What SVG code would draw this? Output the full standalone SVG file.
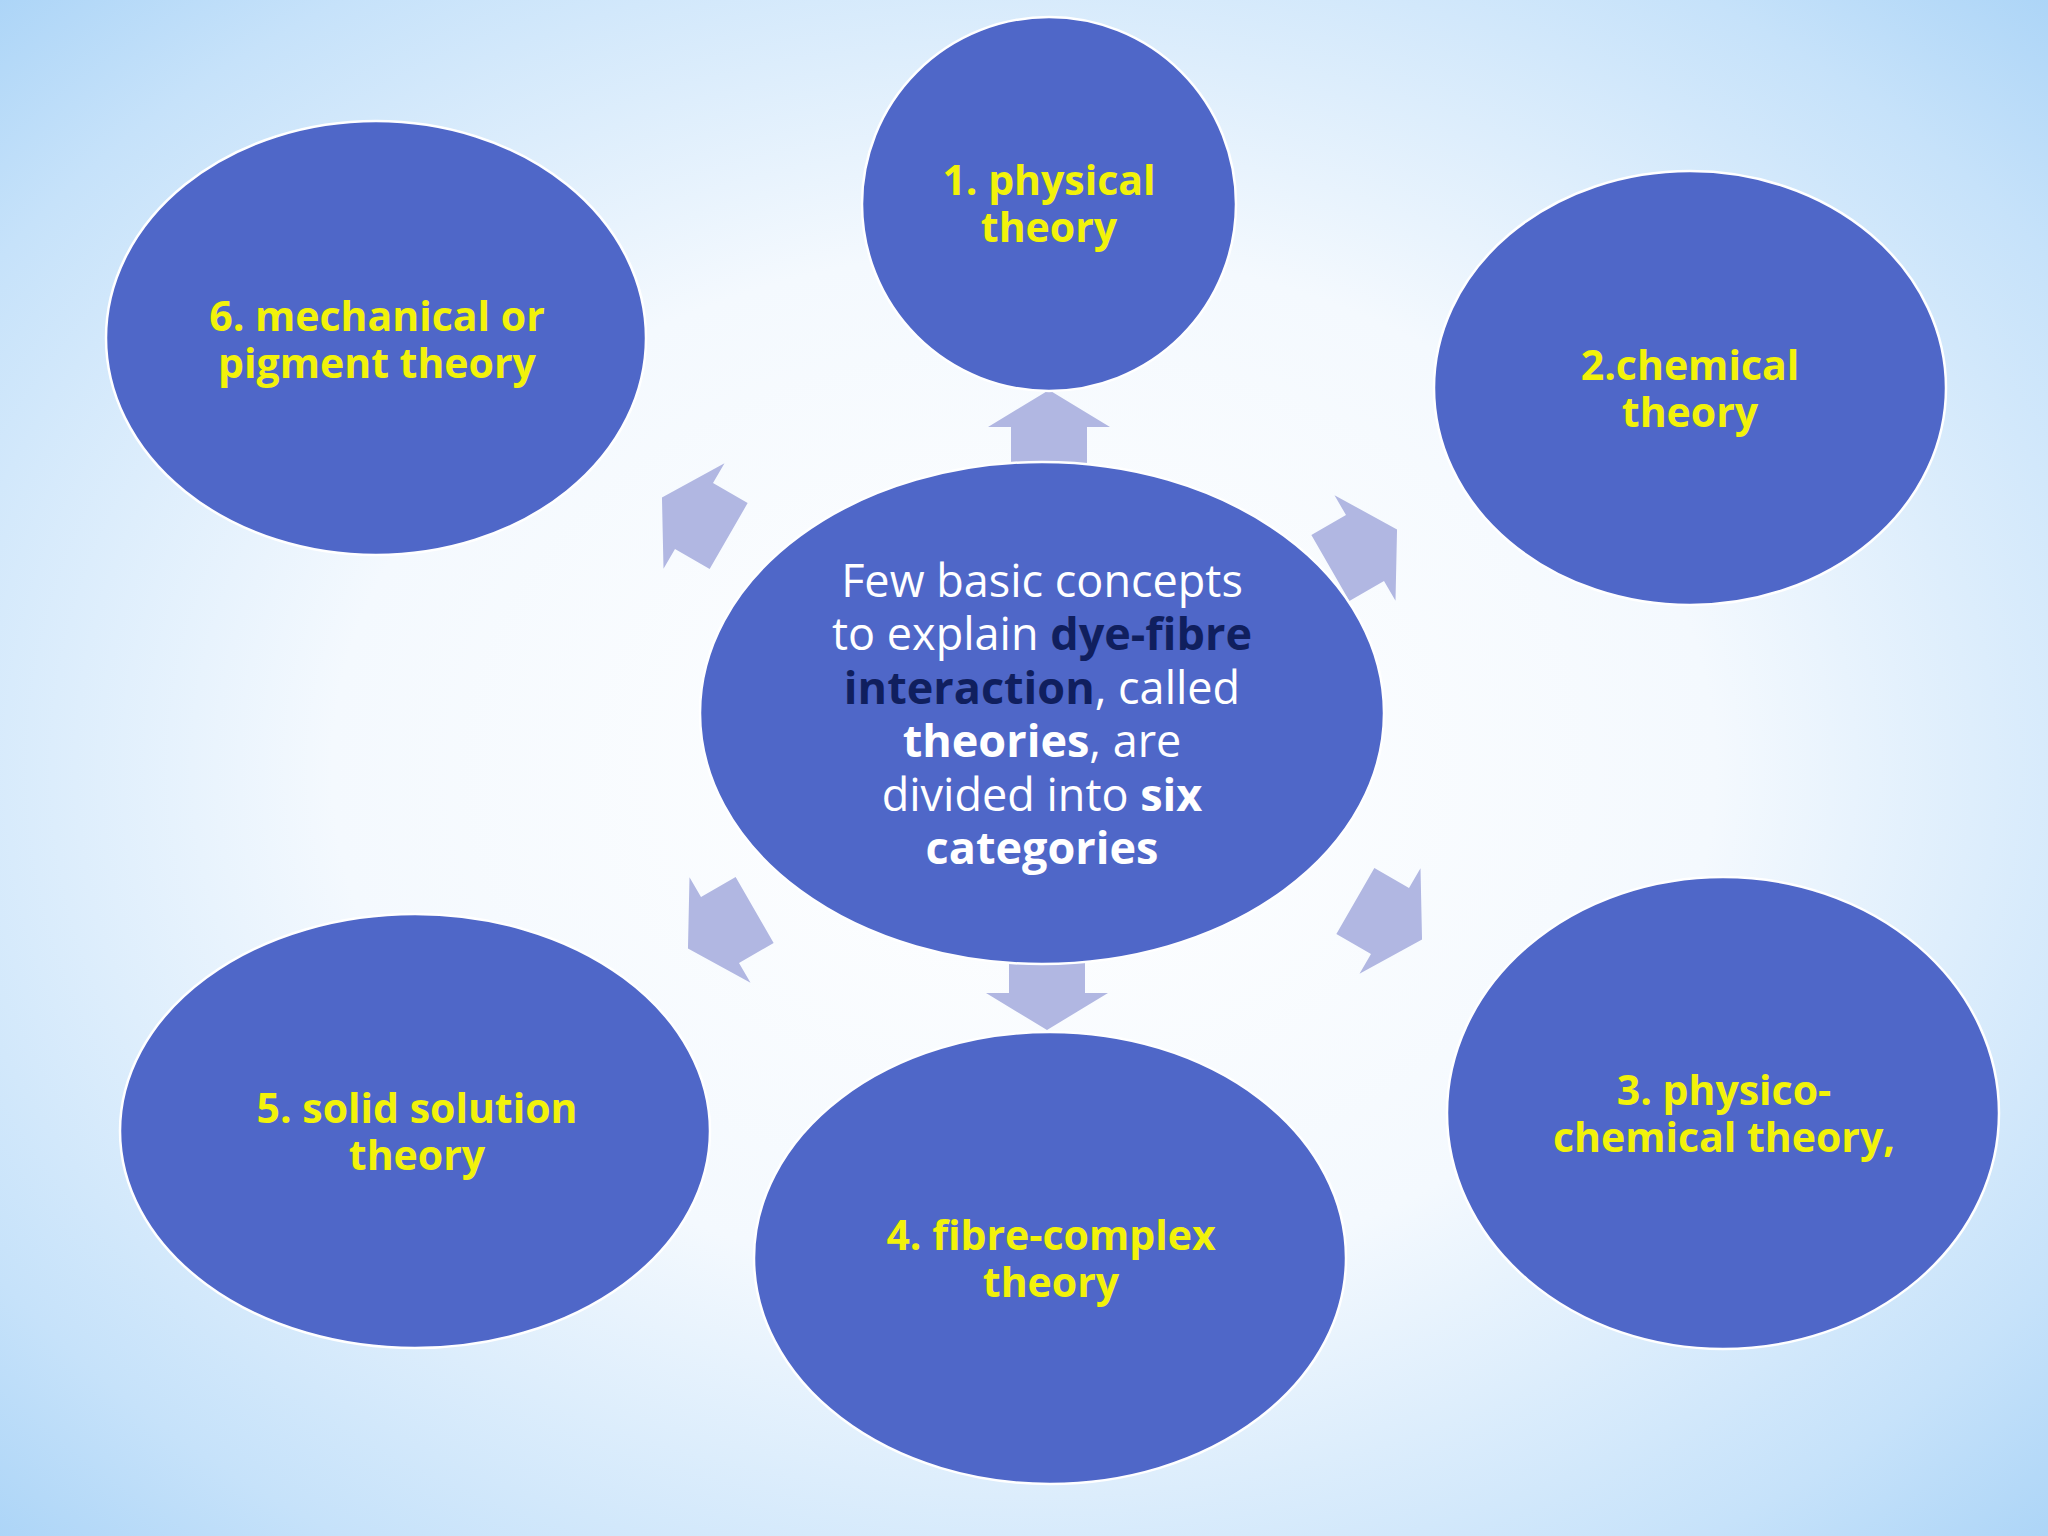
<svg xmlns="http://www.w3.org/2000/svg" width="2048" height="1536" viewBox="0 0 2048 1536">
<defs>
<radialGradient id="bg" cx="0.5" cy="0.5" r="0.75">
<stop offset="0" stop-color="#ffffff"/><stop offset="0.45" stop-color="#f4f9fe"/><stop offset="0.8" stop-color="#c6e2fa"/><stop offset="1" stop-color="#a3d0f6"/>
</radialGradient>
<path id="arr" d="M-38,40 L38,40 L38,0 L61,0 L0,-37 L-61,0 L-38,0 Z" fill="#b1b7e2"/>
</defs>
<style>
.n{fill:#4f67c8;stroke:#ffffff;stroke-width:2.5}
.t{font-family:"Open Sans","DejaVu Sans",sans-serif;font-weight:bold;font-size:41px;fill:#f2f20a;text-anchor:middle;dominant-baseline:central}
.c{font-family:"Open Sans","DejaVu Sans",sans-serif;font-size:45px;fill:#ffffff;text-anchor:middle;dominant-baseline:central}
.b{font-weight:bold}
.d{font-weight:bold;fill:#101f5e}
</style>
<rect width="2048" height="1536" fill="url(#bg)"/>
<g id="connectors">
<use href="#arr" transform="translate(1049,427)"/>
<use href="#arr" transform="translate(1365,548) rotate(60)"/>
<use href="#arr" transform="translate(1390,921) rotate(120)"/>
<use href="#arr" transform="translate(1047,993) rotate(180)"/>
<use href="#arr" transform="translate(720,930) rotate(240)"/>
<use href="#arr" transform="translate(694,516) rotate(300)"/>
</g>
<g id="center"><ellipse class="n" cx="1042" cy="713" rx="342" ry="251"/>
<text class="c" x="1042" y="579">Few basic concepts</text>
<text class="c" x="1042" y="632">to explain <tspan class="d">dye-fibre</tspan></text>
<text class="c" x="1042" y="686"><tspan class="d">interaction</tspan>, called</text>
<text class="c" x="1042" y="739"><tspan class="b">theories</tspan>, are</text>
<text class="c" x="1042" y="793">divided into <tspan class="b">six</tspan></text>
<text class="c b" x="1042" y="846">categories</text></g>
<g id="n1"><ellipse class="n" cx="1049" cy="204" rx="187" ry="187"/><text class="t" x="1049" y="179">1. physical</text><text class="t" x="1049" y="226">theory</text></g>
<g id="n2"><ellipse class="n" cx="1690" cy="388" rx="256" ry="217"/><text class="t" x="1690" y="364">2.chemical</text><text class="t" x="1690" y="411">theory</text></g>
<g id="n3"><ellipse class="n" cx="1723" cy="1113" rx="276" ry="236"/><text class="t" x="1724" y="1089">3. physico-</text><text class="t" x="1724" y="1136">chemical theory,</text></g>
<g id="n4"><ellipse class="n" cx="1050" cy="1258" rx="296" ry="226"/><text class="t" x="1051" y="1234">4. fibre-complex</text><text class="t" x="1051" y="1281">theory</text></g>
<g id="n5"><ellipse class="n" cx="415" cy="1131" rx="295" ry="217"/><text class="t" x="417" y="1107">5. solid solution</text><text class="t" x="417" y="1154">theory</text></g>
<g id="n6"><ellipse class="n" cx="376" cy="338" rx="270" ry="217"/><text class="t" x="377" y="315">6. mechanical or</text><text class="t" x="377" y="362">pigment theory</text></g>
</svg>
